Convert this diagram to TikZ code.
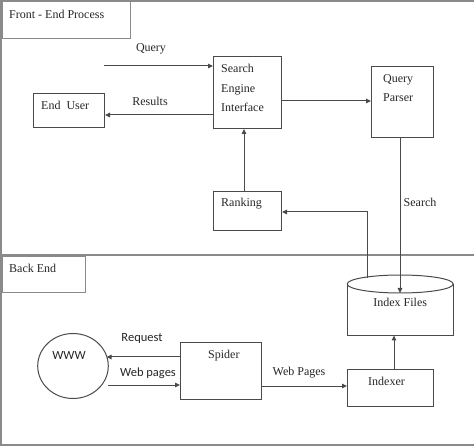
\documentclass[tikz,border=0pt]{standalone}
\usepackage{fontspec}
\setmainfont{Liberation Serif}
\newfontfamily\labsans{Carlito}
\usetikzlibrary{arrows.meta,shapes.geometric}
\definecolor{ln}{HTML}{4A4A4A}
\definecolor{fr}{HTML}{8A8A8A}
\definecolor{tx}{HTML}{262626}
\begin{document}
\begin{tikzpicture}[x=1pt,y=-1pt,
  box/.style={draw=ln, line width=1pt, rectangle, inner sep=0pt, anchor=north west},
  tl/.style={anchor=north west, inner sep=0pt, text=tx, font=\fontsize{12}{19.5}\selectfont, align=left},
  lab/.style={anchor=north, inner sep=0pt, text=tx, font=\fontsize{12}{14}\selectfont},
  slab/.style={anchor=north, inner sep=0pt, text=tx, font=\labsans\fontsize{12.5}{14}\selectfont},
  arr/.style={draw=ln, line width=1pt, -{Triangle[length=5pt,width=4.5pt]}},
  ln/.style={draw=ln, line width=1pt}]
\useasboundingbox (0,0) rectangle (474,446);
% frame and separator
\draw[fr, line width=2pt] (474,1) -- (1,1) -- (1,444.5) -- (474,444.5);
\draw[fr, line width=1.4pt] (0,255) -- (474,255);
% section title boxes
\node[box, draw=fr, line width=1.2pt, minimum width=128, minimum height=37,
  label={[tl, xshift=7pt, yshift=-9pt]north west:Front - End Process}] (fe) at (2,1) {};
\node[box, draw=fr, line width=1.2pt, minimum width=83, minimum height=36,
  label={[tl, xshift=7pt, yshift=-8pt]north west:Back End}] (be) at (2,256) {};
% front end nodes
\node[box, minimum width=71, minimum height=34,
  label={[tl, xshift=8pt, yshift=-8pt]north west:End\ \ User}] (eu) at (33,93) {};
\node[box, minimum width=68, minimum height=72,
  label={[tl, xshift=8pt, yshift=-8pt]north west:Search\\Engine\\Interface}] (sei) at (213,56) {};
\node[box, minimum width=62, minimum height=71,
  label={[tl, xshift=12pt, yshift=-8pt]north west:Query\\Parser}] (qp) at (371,66) {};
\node[box, minimum width=68, minimum height=39,
  label={[tl, xshift=8pt, yshift=-7pt]north west:Ranking}] (rk) at (213,191) {};
% back end nodes
\node[inner sep=0pt, minimum width=106, minimum height=51, anchor=north west,
  label={[lab, yshift=-14pt]north:Index Files}] (idx) at (347,284) {};
\draw[ln] (idx.north west) -- (idx.south west) -- (idx.south east) -- (idx.north east);
\draw[ln] (idx.north) ellipse [x radius=53, y radius=9];
\node[box, minimum width=86, minimum height=37,
  label={[tl, xshift=21pt, yshift=-8pt]north west:Indexer}] (ix) at (347,369) {};
\node[box, minimum width=81, minimum height=57,
  label={[tl, xshift=28pt, yshift=-8pt]north west:Spider}] (sp) at (180,342) {};
\node[ellipse, draw=ln, line width=1pt, inner sep=0pt, minimum width=70.6, minimum height=65,
  label={[slab, xshift=-4pt, yshift=-18pt]north:WWW}] (ww) at (73,366) {};
% coordinates for free ends
\coordinate (qstart) at (104,66);
\coordinate (wstart) at (108,385);
\coordinate (itop) at (367,278);
% connectors front end
\draw[arr] (qstart) -- (qstart -| sei.west);
\node[lab] (lq) at (151,43) {Query};
\draw[arr] (sei.west |- 0,115) -- (eu.east |- 0,115);
\node[lab] (lr) at (150,97) {Results};
\draw[arr] (sei.east |- 0,101) -- (qp.west |- 0,101);
\draw[arr] (rk.north -| 244,0) -- (sei.south -| 244,0);
\draw[arr] (itop) |- (rk.east |- 0,212);
\draw[arr] (qp.south -| 400,0) -- (400,293);
\node[lab] (ls) at (420,198) {Search};
% connectors back end
\draw[arr] (ix.north -| 394,0) -- (idx.south -| 394,0);
\draw[arr] (sp.east |- 0,386) -- (ix.west |- 0,386);
\node[lab] (lw) at (299,367) {Web Pages};
\draw[arr] (sp.west |- 0,357) -- (106.5,357);
\node[slab] (lrq) at (142,333) {Request};
\draw[arr] (wstart) -- (sp.west |- wstart);
\node[slab] (lwp) at (148,368) {Web pages};
\end{tikzpicture}
\end{document}
